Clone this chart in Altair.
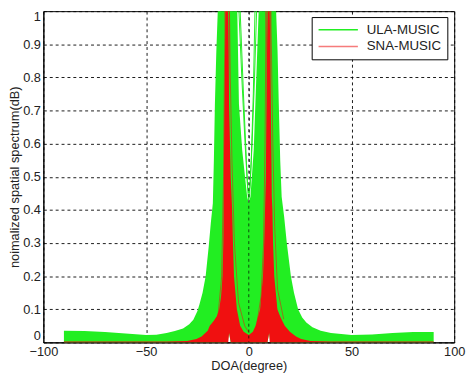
import altair as alt
import pandas as pd

GREEN = "#22ee22"
RED = "#f01010"
FONT = "Liberation Sans"

series_names = ["ULA-MUSIC", "SNA-MUSIC"]
x_ticks = [-100, -50, 0, 50, 100]
y_ticks = [0, 0.1, 0.2, 0.3, 0.4, 0.5, 0.6, 0.7, 0.8, 0.9, 1]

# ULA-MUSIC: envelope of the many Monte-Carlo curves (upper / lower)
ula_x = [-90, -80, -70, -60, -50, -45, -40, -36, -32, -29, -27, -25, -24, -22.5, -21,
         -19.5, -18.5, -17.5, -17, -16.5, -15.8, -15.1, -10.4, -9.6, -8.8, -5.6, -4.8,
         -3.2, -0.8, 0, 0.8, 2.4, 3.2, 4.8, 9.1, 9.9, 10.7, 13.3, 14, 14.6, 15.3, 16,
         17.2, 18.5, 20.5, 22, 24, 26, 28, 31, 35, 40, 50, 60, 70, 80, 90]
ula_high = [0.035, 0.034, 0.031, 0.027, 0.022, 0.023, 0.028, 0.034, 0.042, 0.055, 0.068,
            0.095, 0.115, 0.15, 0.2, 0.29, 0.36, 0.42, 0.55, 0.72, 0.88, 1.0, 1.0, 1.0,
            1.0, 1.0, 0.72, 0.58, 0.44, 0.42, 0.44, 0.58, 0.72, 1.0, 1.0, 1.0, 1.0, 1.0,
            0.88, 0.72, 0.55, 0.44, 0.38, 0.3, 0.2, 0.15, 0.1, 0.075, 0.06, 0.046, 0.035,
            0.028, 0.022, 0.024, 0.028, 0.031, 0.031]
ula_low = [0, 0, 0, 0, 0, 0, 0, 0, 0, 0, 0, 0, 0, 0, 0, 0, 0, 0, 0, 0, 0, 0, 0, 0.028,
           0, 0, 0, 0, 0, 0, 0, 0, 0, 0, 0, 0.028, 0, 0, 0, 0, 0, 0, 0, 0, 0, 0, 0, 0,
           0, 0, 0, 0, 0, 0, 0, 0, 0]

# SNA-MUSIC: envelope
sna_x = [-90, -40, -30, -25.5, -23, -20, -19, -17, -15.5, -14.4, -13.5, -12.8, -12.4,
         -12.2, -11.9, -11.3, -10.4, -10.0, -9.6, -8.8, -8.1, -7.7, -7.2, -5.8, -4.2,
         -2.5, 0, 2, 3.3, 5.5, 6.9, 7.5, 7.9, 8.3, 8.6, 9.1, 9.9, 10.2, 10.7, 11.2,
         11.5, 11.8, 12.4, 13.9, 15.5, 17.5, 20, 23, 25.5, 30, 40, 90]
sna_high = [0.003, 0.003, 0.004, 0.01, 0.018, 0.035, 0.05, 0.065, 0.08, 0.1, 0.14, 0.2,
            0.3, 0.45, 0.7, 1.0, 1.0, 1.0, 0.72, 0.5, 0.4, 0.3, 0.2, 0.1, 0.05, 0.032,
            0.022, 0.032, 0.05, 0.1, 0.2, 0.3, 0.4, 0.5, 0.72, 1.0, 1.0, 1.0, 0.76, 0.44,
            0.4, 0.3, 0.2, 0.1, 0.075, 0.05, 0.032, 0.018, 0.01, 0.004, 0.003, 0.003]
sna_low = [0, 0, 0, 0, 0, 0, 0, 0, 0, 0, 0, 0, 0, 0, 0, 0, 0, 0, 0.028, 0, 0, 0, 0, 0,
           0, 0, 0, 0, 0, 0, 0, 0, 0, 0, 0, 0, 0.028, 0, 0, 0, 0, 0, 0, 0, 0, 0, 0, 0,
           0, 0, 0, 0]

# individual curves that stand out
ula_v1_x = [-4.2, -2.6, -1.2, -0.4, 0, 0.4, 1.2, 2.2, 3.0]
ula_v1_y = [1.0, 0.75, 0.55, 0.45, 0.43, 0.45, 0.55, 0.75, 1.0]
ula_v2_x = [-4.8, -3.4, -1.8, -0.6, 0, 0.6, 1.6, 2.8, 3.8]
ula_v2_y = [1.0, 0.8, 0.6, 0.47, 0.45, 0.47, 0.6, 0.8, 1.0]

sna_c1_x = [-14, -12, -10.5, -9.8, -9.4, -9.0, -8.2, -7, -5, -2, 0]
sna_c1_y = [0.06, 0.15, 0.4, 0.75, 1.0, 0.8, 0.55, 0.3, 0.12, 0.05, 0.03]
sna_c2_x = [4, 6, 7.2, 7.9, 8.4, 9.0, 10.2, 11.5, 14]
sna_c2_y = [0.06, 0.14, 0.3, 0.6, 1.0, 0.75, 0.45, 0.2, 0.08]
sna_c3_x = [8, 9.5, 10.2, 10.7, 11.1, 11.7, 12.6, 14, 17]
sna_c3_y = [0.15, 0.4, 0.8, 1.0, 0.85, 0.6, 0.35, 0.16, 0.07]
sna_c4_x = [-18, -15, -13, -11.8, -11, -10.2, -9.2, -8, -6.5, -5]
sna_c4_y = [0.04, 0.07, 0.1, 0.125, 0.13, 0.125, 0.11, 0.1, 0.07, 0.05]
sna_c5_x = [-15, -13.2, -12.3, -11.9, -11.5, -11.0, -10.3, -9]
sna_c5_y = [0.08, 0.2, 0.5, 0.8, 1.0, 0.85, 0.5, 0.2]

ula_band = pd.DataFrame({"x": ula_x, "y": ula_high, "y2": ula_low})
sna_band = pd.DataFrame({"x": sna_x, "y": sna_high, "y2": sna_low})

rows = []
for name, series, xs_, ys_ in [
    ("u1", "ULA-MUSIC", ula_v1_x, ula_v1_y),
    ("u2", "ULA-MUSIC", ula_v2_x, ula_v2_y),
    ("s1", "SNA-MUSIC", sna_c1_x, sna_c1_y),
    ("s2", "SNA-MUSIC", sna_c2_x, sna_c2_y),
    ("s3", "SNA-MUSIC", sna_c3_x, sna_c3_y),
    ("s4", "SNA-MUSIC", sna_c4_x, sna_c4_y),
    ("s5", "SNA-MUSIC", sna_c5_x, sna_c5_y),
]:
    for i, (a, b) in enumerate(zip(xs_, ys_)):
        rows.append({"x": a, "y": b, "curve": name, "series": series, "order": i})
lines = pd.DataFrame(rows)

x_axis = alt.Axis(values=x_ticks, title="DOA(degree)", labelFlush=False,
                  labelPadding=3, titlePadding=2)
y_axis = alt.Axis(values=y_ticks, format="~g", title="noimalized spatial spectrum(dB)",
                  labelPadding=3, titlePadding=1, labelFlush=True, labelFlushOffset=0)
xenc = alt.X("x:Q", scale=alt.Scale(domain=[-100, 100], nice=False, zero=False), axis=x_axis)
yenc = alt.Y("y:Q", scale=alt.Scale(domain=[0, 1], nice=False), axis=y_axis)

ula_area = alt.Chart(ula_band).mark_area(color=GREEN, opacity=1).encode(
    x=xenc, y=yenc, y2="y2:Q")
sna_area = alt.Chart(sna_band).mark_area(color=RED, opacity=1).encode(
    x=xenc, y=yenc, y2="y2:Q")

line_layer = alt.Chart(lines).mark_line(strokeWidth=1).encode(
    x=xenc, y=yenc, detail="curve:N", order="order:Q",
    color=alt.Color("series:N", scale=alt.Scale(domain=series_names, range=[GREEN, RED]),
                    legend=alt.Legend(title=None, orient="none", legendX=273, legendY=6,
                                      symbolType="M-1,0H5.667", symbolSize=144,
                                      symbolStrokeWidth=1.5, symbolOpacity=1,
                                      labelOffset=36, labelFontSize=13.5, labelFont=FONT,
                                      labelExpr="datum.label + '\u2002'",
                                      labelColor="#222", padding=6, rowPadding=3,
                                      strokeColor="black", fillColor="white")),
    opacity=alt.Opacity("series:N", scale=alt.Scale(domain=series_names, range=[1, 0.55]),
                        legend=None),
)

zero_rule = alt.Chart(pd.DataFrame({"x": [0]})).mark_rule(
    color="black", strokeDash=[3, 3], opacity=0.7).encode(x=xenc)

chart = alt.layer(ula_area, sna_area, line_layer, zero_rule).properties(
    width=418, height=337,
    padding={"left": 36, "top": 0, "right": 12, "bottom": 31},
    autosize=alt.AutoSizeParams(type="none"),
).configure_view(stroke="black", strokeWidth=1).configure_axis(
    labelFont=FONT, titleFont=FONT, labelFontSize=13, titleFontSize=13,
    labelColor="#222", titleColor="#222", titleFontWeight="normal",
    domainColor="black", gridColor="black", gridDash=[3, 3], gridOpacity=0.9,
    ticks=False,
)

chart.save("out.html", embed_options={"renderer": "svg", "actions": False})
